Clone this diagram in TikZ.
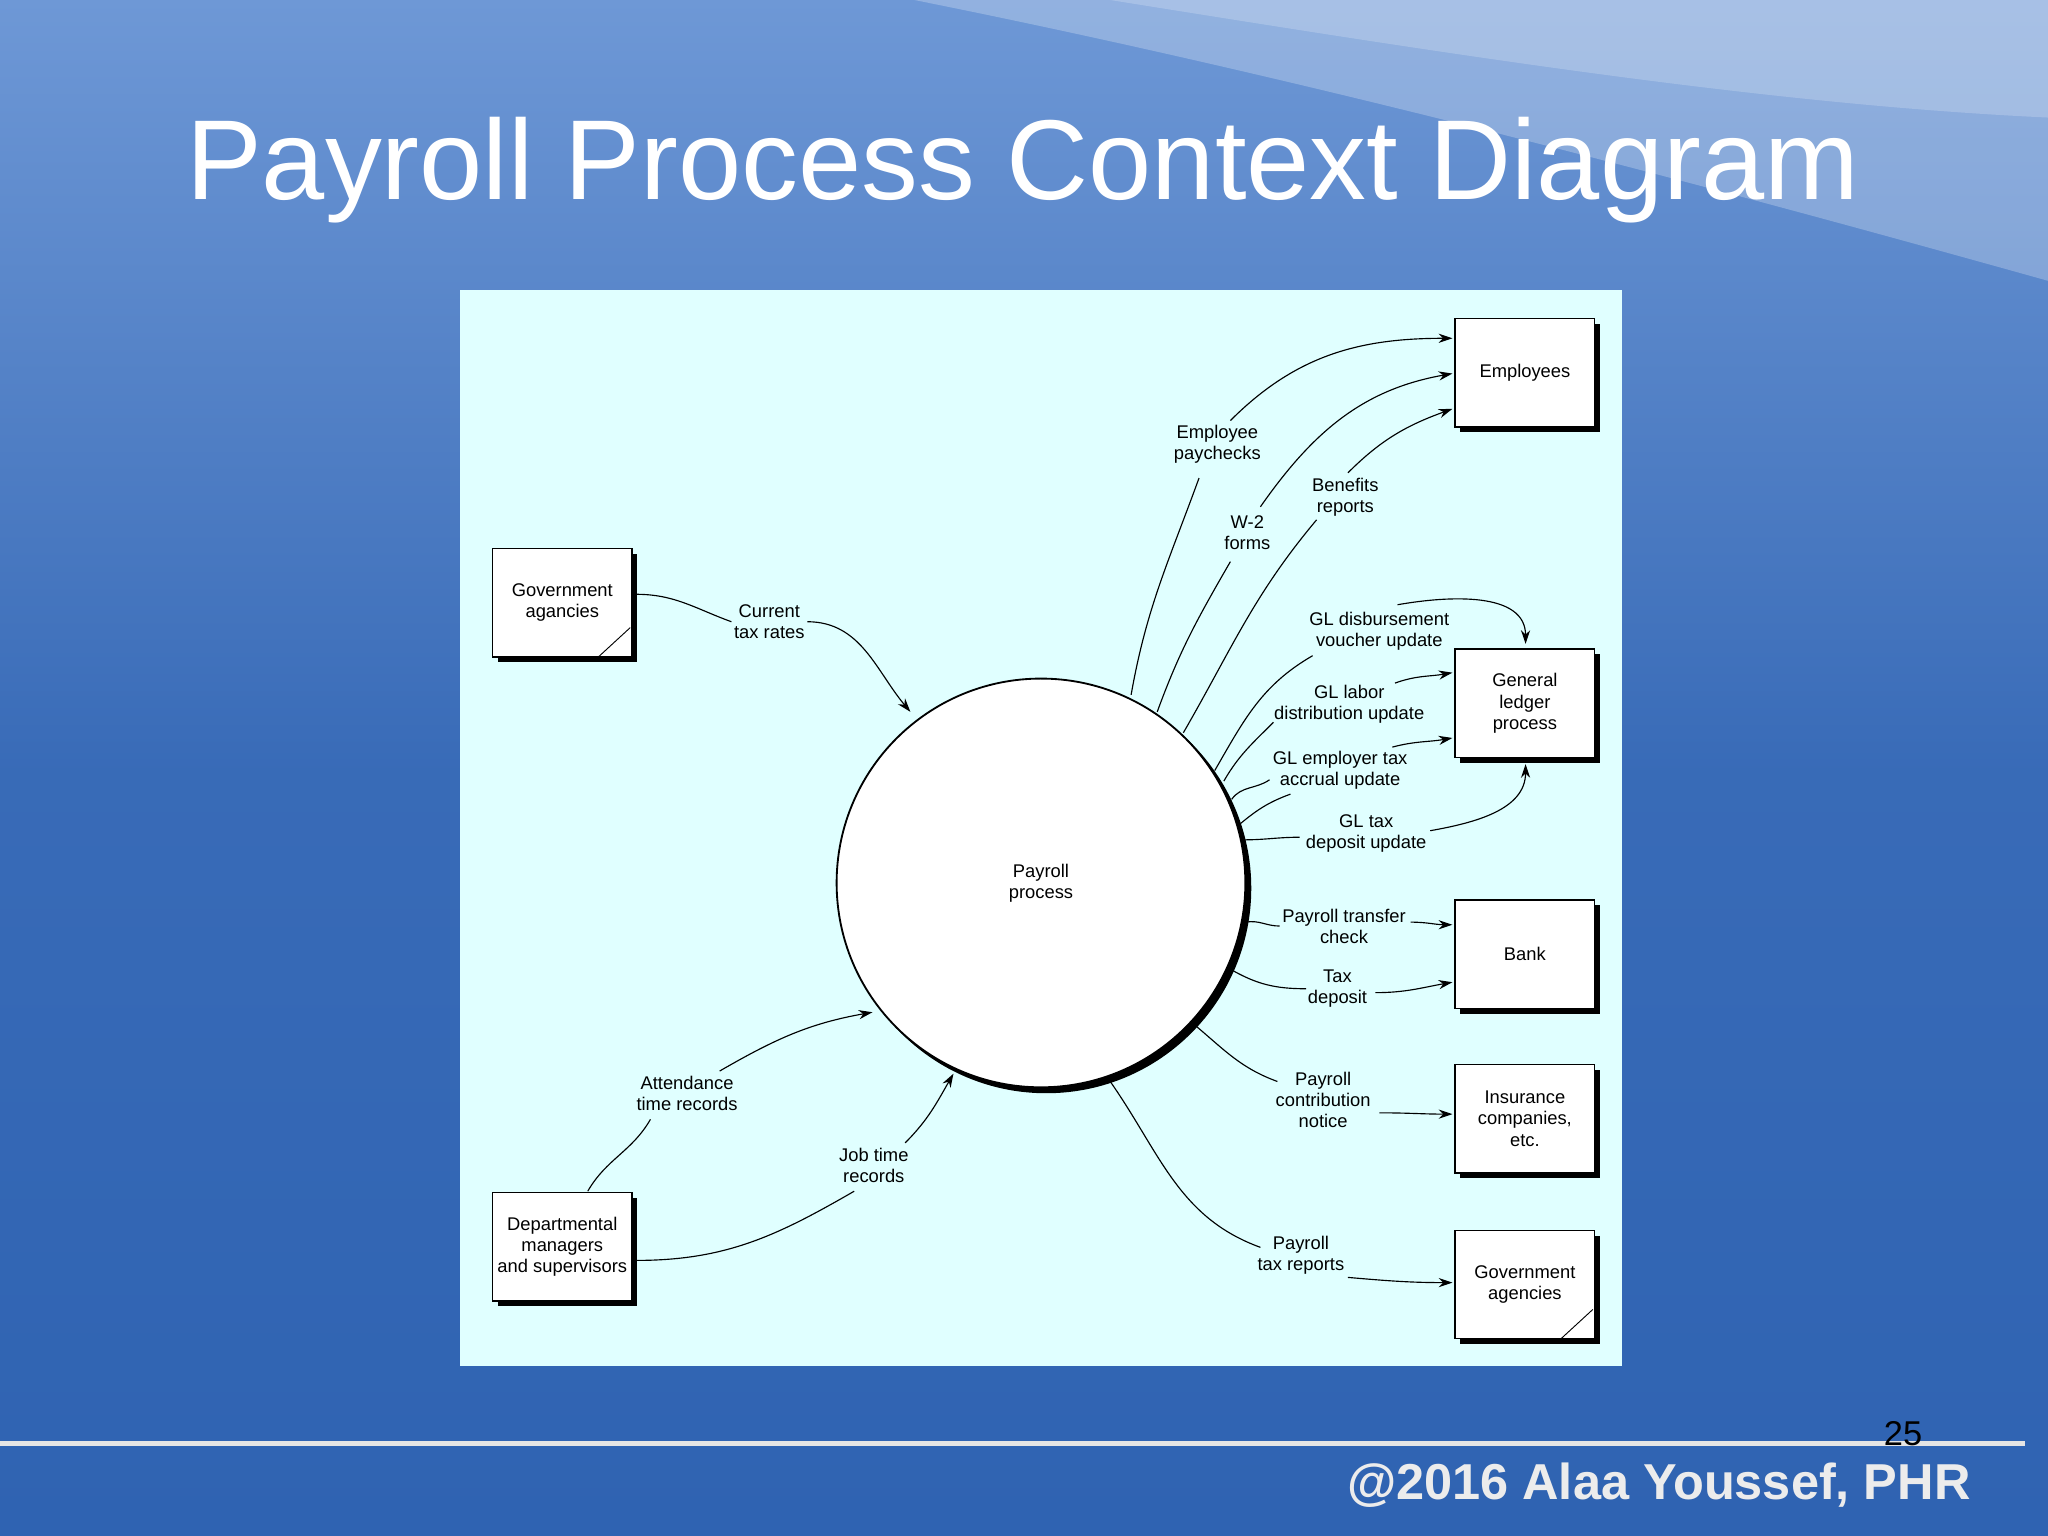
\documentclass[tikz,border=0pt]{standalone}
\usepackage{fontspec}
\setmainfont{Liberation Sans}
\usetikzlibrary{arrows.meta}
\definecolor{panel}{HTML}{E0FFFF}
\definecolor{bgtop}{HTML}{6E98D6}
\definecolor{bgbot}{HTML}{2F63B2}
\begin{document}
\begin{tikzpicture}[x=0.02cm,y=-0.02cm,
  lbl/.style={font=\fontsize{8}{9.2}\selectfont,align=center,inner sep=1pt},
  ent/.style={draw,fill=white,line width=0.6pt,minimum width=2.14cm,minimum height=1.66cm,align=center,font=\fontsize{8}{9.2}\selectfont,inner sep=1pt},
  flow/.style={line width=0.5pt},
  arr/.style={line width=0.5pt,-{Stealth[length=6pt,width=4pt]}}]
\useasboundingbox (0,0) rectangle (1568,1176);
\shade[top color=bgtop,bottom color=bgbot,middle color=bgbot!85!bgtop] (0,0) rectangle (1568,1176);
\fill[white,opacity=0.25] (700,0) .. controls (1000,60) and (1300,140) .. (1568,215) -- (1568,0) -- cycle;
\fill[white,opacity=0.2] (850,0) .. controls (1100,40) and (1350,80) .. (1568,90) -- (1568,0) -- cycle;
\node[white,font=\fontsize{49.5}{54}\selectfont] (title) at (783,130) {Payroll Process Context Diagram};
\fill[panel] (352,222) rectangle (1242,1046);
\draw[white!80!gray,line width=2pt] (0,1105) -- (1550,1105);
\node[black,font=\fontsize{15}{16}\selectfont] (pg) at (1457,1098) {25};
\node[white!85!gray,font=\bfseries\fontsize{22}{24}\selectfont] (cr) at (1270,1137) {@2016 Alaa Youssef, PHR};
% entities
\newcommand{\ent}[4]{\fill (#2+4,#3+4) rectangle +(107,83);
  \node[ent] (#1) at (#2+53.5,#3+41.5) {#4};}
\ent{gova}{377}{420}{Government\\agancies}
\draw (gova.south east)++(-27,0) -- ++(25,-23);
\ent{emp}{1114}{244}{Employees}
\ent{gl}{1114}{497}{General\\ledger\\process}
\ent{bank}{1114}{689}{Bank}
\ent{ins}{1114}{815}{Insurance\\companies,\\etc.}
\ent{govb}{1114}{942}{Government\\agencies}
\draw (govb.south east)++(-27,0) -- ++(25,-23);
\ent{dept}{377}{913}{Departmental\\managers\\and supervisors}
% process
\fill (801,680) circle (157);
\node[circle,draw,fill=white,line width=0.8pt,minimum size=6.26cm,lbl] (p) at (797,676) {Payroll\\process};
% labels
\node[lbl] (l1) at (589,476) {Current\\tax rates};
\node[lbl] (l2) at (932,340) {Employee\\paychecks};
\node[lbl] (l3) at (955,408) {W-2\\forms};
\node[lbl] (l4) at (1030,381) {Benefits\\reports};
\node[lbl] (l5) at (1056,483) {GL disbursement\\voucher update};
\node[lbl] (l6) at (1033,539) {GL labor\\distribution update};
\node[lbl] (l7) at (1026,590) {GL employer tax\\accrual update};
\node[lbl] (l8) at (1046,638) {GL tax\\deposit update};
\node[lbl] (l9) at (1029,709) {Payroll transfer\\check};
\node[lbl] (l10) at (1024,757) {Tax\\deposit};
\node[lbl] (l11) at (1013,842) {Payroll\\contribution\\notice};
\node[lbl] (l12) at (996,961) {Payroll\\tax reports};
\node[lbl] (l13) at (526,837) {Attendance\\time records};
\node[lbl] (l14) at (669,892) {Job time\\records};
% coordinates
\coordinate (a1) at (697,545);
\coordinate (e1) at (1112,259); \coordinate (e2) at (1112,286); \coordinate (e3) at (1112,313);
\coordinate (g5) at (1168,493); \coordinate (g6) at (1112,515); \coordinate (g7) at (1112,565); \coordinate (g8) at (1168,585);
\coordinate (b9) at (1112,708); \coordinate (b10) at (1112,752);
\coordinate (i11) at (1112,853); \coordinate (v12) at (1112,982);
\coordinate (a13) at (668,775); \coordinate (a14) at (730,822);
% flows
\draw[flow] (487,455) to[out=0,in=160] (l1.west);
\draw[arr] (l1.east) to[out=0,in=130] (a1);
\draw[flow] (866,532) to[out=80,in=-110] (918,366);
\draw[arr] (942,322) to[out=45,in=180] (e1);
\draw[flow] (886,545) to[out=70,in=-120] (942,430);
\draw[arr] (965,388) to[out=55,in=190] (e2);
\draw[flow] (906,561) to[out=60,in=-130] (1008,398);
\draw[arr] (1032,362) to[out=45,in=200] (e3);
\draw[flow] (930,590) to[out=60,in=-150] (1005,502);
\draw[arr] (1070,463) to[out=10,in=90] (g5);
\draw[flow] (937,598) to[out=60,in=-135] (975,553);
\draw[arr] (1068,523) to[out=20,in=190] (g6);
\draw[flow] (943,612) to[out=55,in=-145] (972,597);
\draw[arr] (1066,572) to[out=15,in=190] (g7);
\draw[flow] (948,632) to[out=40,in=-160] (988,608);
\draw[flow] (952,643) to[out=0,in=180] (995,641);
\draw[arr] (1095,636) to[out=10,in=-90] (g8);
\draw[flow] (954,706) to[out=10,in=180] (l9.west);
\draw[arr] (1080,706) to[out=0,in=180] (b9);
\draw[flow] (942,742) to[out=-30,in=180] (1000,757);
\draw[arr] (1053,760) to[out=0,in=190] (b10);
\draw[flow] (915,785) to[out=-40,in=160] (978,828);
\draw[arr] (1056,852) to[out=0,in=180] (i11);
\draw[flow] (850,828) to[out=-55,in=160] (965,955);
\draw[arr] (1032,978) to[out=-5,in=180] (v12);
\draw[flow] (450,912) to[out=60,in=-120] (498,857);
\draw[arr] (551,820) to[out=30,in=190] (a13);
\draw[flow] (487,965) to[out=0,in=210] (654,912);
\draw[arr] (693,875) to[out=45,in=-120] (a14);
\end{tikzpicture}
\end{document}
